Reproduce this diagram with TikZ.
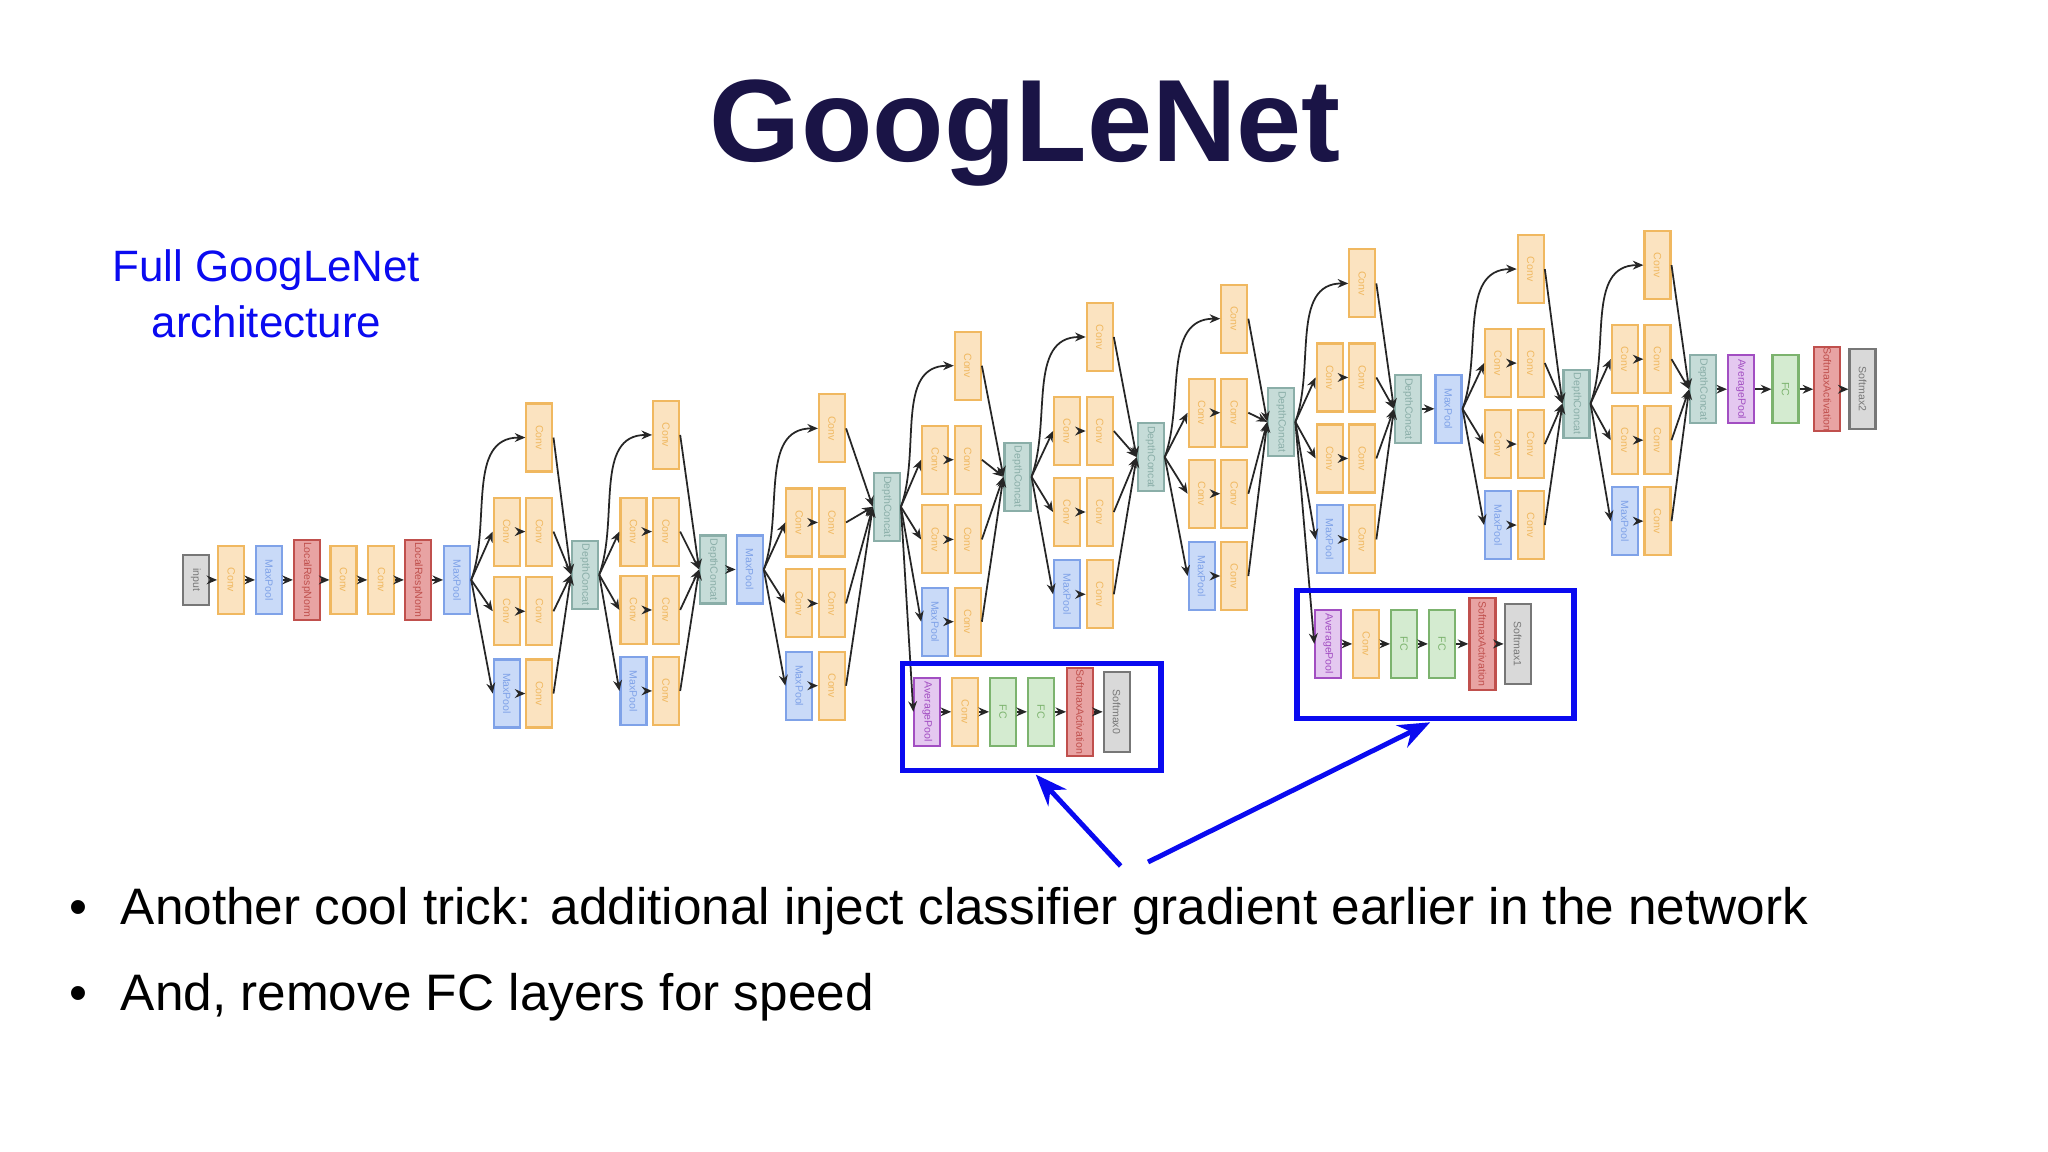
\documentclass[tikz,border=0pt]{standalone}
\usepackage{fontspec}
\setmainfont{Liberation Sans}
\usetikzlibrary{arrows.meta}
\definecolor{orF}{HTML}{FBE3C0}\definecolor{orD}{HTML}{F0B860}
\definecolor{blF}{HTML}{C9DAF8}\definecolor{blD}{HTML}{7FA2E8}
\definecolor{rdF}{HTML}{E8A3A3}\definecolor{rdD}{HTML}{C0504D}
\definecolor{teF}{HTML}{C6DCD8}\definecolor{teD}{HTML}{8AAEA8}
\definecolor{grF}{HTML}{D9D9D9}\definecolor{grD}{HTML}{777777}
\definecolor{gnF}{HTML}{D4EBD0}\definecolor{gnD}{HTML}{7CB36E}
\definecolor{puF}{HTML}{E4C8F0}\definecolor{puD}{HTML}{A24EC2}
\definecolor{navy}{HTML}{1A1446}
\definecolor{lblue}{HTML}{0A0AF0}
\tikzset{
 bx/.style={draw,line width=0.6pt,minimum width=0.26cm,minimum height=0.68cm,inner sep=0pt,font=\fontsize{3}{3}\selectfont},
 or/.style={bx,fill=orF,draw=orD,text=orD},
 bl/.style={bx,fill=blF,draw=blD,text=blD},
 rd/.style={bx,fill=rdF,draw=rdD,text=rdD,minimum height=0.8cm},
 te/.style={bx,fill=teF,draw=teD,text=teD},
 gr/.style={bx,fill=grF,draw=grD,text=grD},
 gn/.style={bx,fill=gnF,draw=gnD,text=gnD},
 pu/.style={bx,fill=puF,draw=puD,text=puD},
 ar/.style={-{Stealth[length=3pt,width=2.5pt]},line width=0.5pt,black!85},
 hl/.style={draw=lblue,line width=1.6pt},
 ha/.style={-{Stealth[length=9pt,width=7pt]},draw=lblue,line width=1.4pt},
 bt/.style={anchor=base west,inner sep=0pt,font=\fontsize{14.6}{17}\selectfont}
}
\newcommand\rl[1]{\rotatebox{-90}{#1}}
\newcommand\myinc[9]{%
 \node[or] (#1t) at (#2+25,#3) {\rl{Conv}};
 \node[or] (#1a) at (#2,#4) {\rl{Conv}};
 \node[or] (#1b) at (#2+25,#4) {\rl{Conv}};
 \node[or] (#1c) at (#2,#5) {\rl{Conv}};
 \node[or] (#1d) at (#2+25,#5) {\rl{Conv}};
 \node[bl] (#1e) at (#2,#6) {\rl{MaxPool}};
 \node[or] (#1f) at (#2+25,#6) {\rl{Conv}};
 \node[te] (#1z) at (#8,#9) {\rl{DepthConcat}};
 \draw[ar] (#7.east) to[out=70,in=180] (#1t.west);
 \draw[ar] (#7.east) -- (#1a.west);
 \draw[ar] (#7.east) -- (#1c.west);
 \draw[ar] (#7.east) -- (#1e.west);
 \draw[ar] (#1a) -- (#1b); \draw[ar] (#1c) -- (#1d); \draw[ar] (#1e) -- (#1f);
 \draw[ar] (#1t.east) -- (#1z.west); \draw[ar] (#1b.east) -- (#1z.west);
 \draw[ar] (#1d.east) -- (#1z.west); \draw[ar] (#1f.east) -- (#1z.west);
}
\begin{document}
\begin{tikzpicture}[x=0.013061cm,y=-0.013061cm]
\useasboundingbox (0,0) rectangle (1568,882);
\fill[white] (0,0) rectangle (1568,882);
\node[font=\bfseries\fontsize{33.3}{36}\selectfont,text=navy] (title) at (785,102) {GoogLeNet};
\node[font=\fontsize{12.5}{16}\selectfont,text=lblue,align=center] (full) at (204,225) {Full GoogLeNet\\architecture};
% stem
\node[gr,minimum height=0.5cm] (in) at (150,444) {\rl{input}};
\node[or] (s1) at (177,444) {\rl{Conv}};
\node[bl] (s2) at (206,444) {\rl{MaxPool}};
\node[rd] (s3) at (235,444) {\rl{LocalRespNorm}};
\node[or] (s4) at (263,444) {\rl{Conv}};
\node[or] (s5) at (292,444) {\rl{Conv}};
\node[rd] (s6) at (320,444) {\rl{LocalRespNorm}};
\node[bl] (s7) at (350,444) {\rl{MaxPool}};
\foreach \a/\b in {in/s1,s1/s2,s2/s3,s3/s4,s4/s5,s5/s6,s6/s7} \draw[ar] (\a) -- (\b);
\myinc{ia}{388}{335}{407}{468}{531}{s7}{448}{440}
\myinc{ib}{485}{333}{407}{467}{529}{iaz}{546}{436}
\node[bl] (p1) at (574,436) {\rl{MaxPool}};
\draw[ar] (ibz) -- (p1);
\myinc{ic}{612}{328}{400}{462}{525}{p1}{679}{388}
\myinc{id}{716}{280}{352}{413}{476}{icz}{779}{365}
\myinc{ie}{817}{258}{330}{392}{455}{idz}{881}{350}
\myinc{ig}{920}{244}{316}{378}{441}{iez}{981}{323}
\myinc{ih}{1018}{217}{289}{351}{413}{igz}{1078}{313}
\node[bl] (p2) at (1109,313) {\rl{MaxPool}};
\draw[ar] (ihz) -- (p2);
\myinc{ii}{1147}{206}{278}{340}{402}{p2}{1207}{309}
\myinc{ij}{1244}{203}{275}{337}{399}{iiz}{1304}{298}
\node[pu] (f1) at (1333,298) {\rl{AveragePool}};
\node[gn] (f2) at (1367,298) {\rl{FC}};
\node[rd] (f3) at (1399,298) {\rl{SoftmaxActivation}};
\node[gr,minimum height=0.8cm] (f4) at (1426,298) {\rl{Softmax2}};
\foreach \a/\b in {ijz/f1,f1/f2,f2/f3,f3/f4} \draw[ar] (\a) -- (\b);
% aux 1
\node[pu] (a1) at (710,545) {\rl{AveragePool}};
\node[or] (a2) at (739,545) {\rl{Conv}};
\node[gn] (a3) at (768,545) {\rl{FC}};
\node[gn] (a4) at (797,545) {\rl{FC}};
\node[rd,minimum height=0.88cm] (a5) at (827,545) {\rl{SoftmaxActivation}};
\node[gr,minimum height=0.8cm] (a6) at (855,545) {\rl{Softmax0}};
\foreach \a/\b in {a1/a2,a2/a3,a3/a4,a4/a5,a5/a6} \draw[ar] (\a) -- (\b);
\draw[ar] (icz.east) -- (a1.west);
% aux 2
\node[pu] (b1) at (1017,493) {\rl{AveragePool}};
\node[or] (b2) at (1046,493) {\rl{Conv}};
\node[gn] (b3) at (1075,493) {\rl{FC}};
\node[gn] (b4) at (1104,493) {\rl{FC}};
\node[rd,minimum height=0.92cm] (b5) at (1135,493) {\rl{SoftmaxActivation}};
\node[gr,minimum height=0.8cm] (b6) at (1162,493) {\rl{Softmax1}};
\foreach \a/\b in {b1/b2,b2/b3,b3/b4,b4/b5,b5/b6} \draw[ar] (\a) -- (\b);
\draw[ar] (igz.east) -- (b1.west);
\coordinate (h1a) at (691,508); \coordinate (h1b) at (889,590);
\coordinate (h2a) at (993,452); \coordinate (h2b) at (1205,550);
\draw[hl] (h1a) rectangle (h1b);
\draw[hl] (h2a) rectangle (h2b);
\coordinate (t1) at (858,663); \coordinate (e1) at (793,593);
\coordinate (t2) at (879,660); \coordinate (e2) at (1095,553);
\draw[ha] (t1) -- (e1);
\draw[ha] (t2) -- (e2);
% bullets
\node[bt] (l1) at (92,708) {Another cool trick: additional inject classifier gradient earlier in the network};
\node[bt] (l2) at (92,774) {And, remove FC layers for speed};
\node[anchor=base,font=\fontsize{14.6}{17}\selectfont] (d1) at (60,708) {•};
\node[anchor=base,font=\fontsize{14.6}{17}\selectfont] (d2) at (60,774) {•};
\end{tikzpicture}
\end{document}
